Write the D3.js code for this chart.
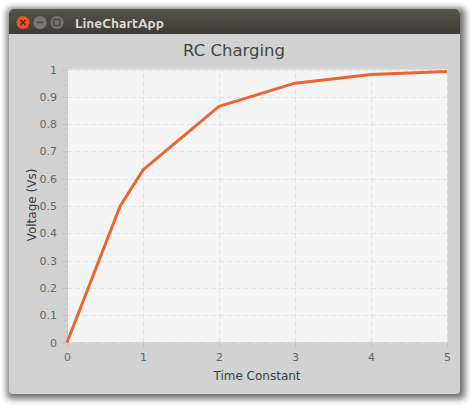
<!DOCTYPE html>
<html><head><meta charset="utf-8">
<script src="https://cdnjs.cloudflare.com/ajax/libs/d3/7.8.5/d3.min.js"></script>
<style>html,body{margin:0;padding:0;background:#fff;overflow:hidden}svg{display:block}text{font-family:"DejaVu Sans",sans-serif}</style>
</head><body><div id="c"></div>
<script>
const timeConstant=[0,0.7,1,2,3,4,5];
const voltage=[0,0.5,0.632,0.865,0.95,0.982,0.993];
const xTicks=[0,1,2,3,4,5];
const yTicks=[0,0.1,0.2,0.3,0.4,0.5,0.6,0.7,0.8,0.9,1];
const title="RC Charging", xLabel="Time Constant", yLabel="Voltage (Vs)", windowTitle="LineChartApp";

const svg=d3.select("#c").append("svg").attr("width",474).attr("height",409);
const defs=svg.append("defs");
const f=defs.append("filter").attr("id","sh").attr("x","-10%").attr("y","-10%").attr("width","120%").attr("height","120%");
f.append("feGaussianBlur").attr("stdDeviation",3);
const g1=defs.append("linearGradient").attr("id","tb").attr("x1",0).attr("x2",0).attr("y1",0).attr("y2",1);
g1.append("stop").attr("offset",0).attr("stop-color","#56534b");
g1.append("stop").attr("offset",1).attr("stop-color","#3e3c37");

svg.append("rect").attr("x",7).attr("y",8).attr("width",458).attr("height",391).attr("rx",4).attr("fill","#111").attr("opacity",.6).attr("filter","url(#sh)");
svg.append("rect").attr("x",9).attr("y",9).attr("width",451).attr("height",385).attr("rx",4).attr("fill","#d2d2d2");
svg.append("path").attr("d","M9 34V14a5 5 0 0 1 5-5H455a5 5 0 0 1 5 5V34Z").attr("fill","url(#tb)");
const btn=[[23,"#e0562a"],[40,"#7a7870"],[57,"#757369"]];
svg.selectAll("circle.b").data(btn).join("circle").attr("class","b").attr("cx",d=>d[0]).attr("cy",22.5).attr("r",7).attr("fill",d=>d[1]).attr("stroke","#3a3833").attr("stroke-width",.6);
svg.append("path").attr("d","M20.5 20l5 5M25.5 20l-5 5").attr("stroke","#5a1f08").attr("stroke-width",1.3);
svg.append("path").attr("d","M37 22.5h6").attr("stroke","#45433e").attr("stroke-width",1.4);
svg.append("rect").attr("x",54).attr("y",19.5).attr("width",6).attr("height",6).attr("fill","none").attr("stroke","#45433e").attr("stroke-width",1.2);
svg.append("text").attr("x",75).attr("y",27.5).attr("fill","#dfdbd2").attr("font-size",13.7).attr("font-weight",700).style("font-family","Ubuntu,'Open Sans',sans-serif").text(windowTitle);

const x=d3.scaleLinear().domain([0,5]).range([67,447]);
const y=d3.scaleLinear().domain([0,1]).range([342.5,69.5]);
svg.append("rect").attr("x",x(0)).attr("y",y(1)).attr("width",x(5)-x(0)).attr("height",y(0)-y(1)).attr("fill","#f4f4f4");

const grid=svg.append("g").attr("stroke","#e2e2e2").attr("stroke-width",1).attr("stroke-dasharray","5 3").attr("fill","none");
yTicks.forEach(t=>grid.append("line").attr("x1",x(0)).attr("x2",x(5)).attr("y1",Math.round(y(t))+.5).attr("y2",Math.round(y(t))+.5));
xTicks.forEach(t=>grid.append("line").attr("y1",y(0)).attr("y2",y(1)).attr("x1",Math.round(x(t))+.5).attr("x2",Math.round(x(t))+.5));

const xa=svg.append("g").attr("transform",`translate(0,${y(0)})`).call(d3.axisBottom(x).tickValues(xTicks).tickFormat(d3.format("d")).tickSize(5).tickPadding(6));
const ya=svg.append("g").attr("transform",`translate(${x(0)},0)`).call(d3.axisLeft(y).tickValues(yTicks).tickFormat(d=>d===0?"0":d===1?"1":d3.format(".1f")(d)).tickSize(5).tickPadding(5));
[xa,ya].forEach(a=>{a.select(".domain").attr("stroke","#c8c8c8");a.selectAll("line").attr("stroke","#c2c2c2");a.selectAll("text").attr("fill","#666").attr("font-size",11).style("font-family",'"DejaVu Sans",sans-serif');});
// minor ticks
const xMinor=xa.append("g"),yMinor=ya.append("g");
xTicks.slice(0,-1).forEach(t=>d3.range(1,5).forEach(i=>xMinor.append("line").attr("x1",x(t+i/5)).attr("x2",x(t+i/5)).attr("y1",0).attr("y2",3).attr("stroke","#c8c8c8")));
yTicks.slice(0,-1).forEach(t=>d3.range(1,5).forEach(i=>yMinor.append("line").attr("y1",y(t+i/50)).attr("y2",y(t+i/50)).attr("x1",0).attr("x2",-3).attr("stroke","#c8c8c8")));

const line=d3.line().x((d,i)=>x(timeConstant[i])).y(d=>y(d));
svg.append("path").datum(voltage).attr("d",line).attr("fill","none").attr("stroke","#ec6531").attr("stroke-width",3).attr("stroke-linejoin","round");

svg.append("text").attr("x",234).attr("y",56).attr("text-anchor","middle").attr("font-size",16.5).attr("fill","#444").text(title);
svg.append("text").attr("x",257).attr("y",380).attr("text-anchor","middle").attr("font-size",12).attr("fill","#3c3c3c").text(xLabel);
svg.append("text").attr("transform","translate(36,205) rotate(-90)").attr("text-anchor","middle").attr("font-size",12).attr("fill","#3c3c3c").text(yLabel);
</script></body></html>
